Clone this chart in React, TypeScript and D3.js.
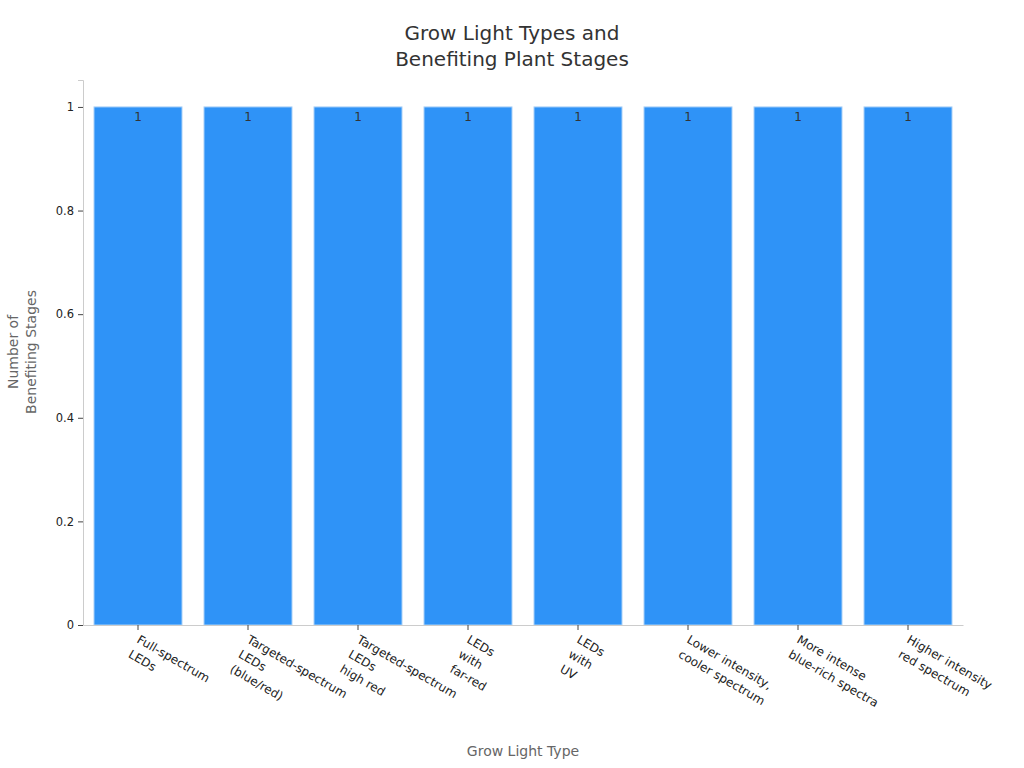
import * as d3 from 'd3'
import { FC, useRef, useEffect } from 'react'

const categories: string[][] = [
    ['Full-spectrum', 'LEDs'],
    ['Targeted-spectrum', 'LEDs', '(blue/red)'],
    ['Targeted-spectrum', 'LEDs', 'high red'],
    ['LEDs', 'with', 'far-red'],
    ['LEDs', 'with', 'UV'],
    ['Lower intensity,', 'cooler spectrum'],
    ['More intense', 'blue-rich spectra'],
    ['Higher intensity', 'red spectrum'],
]
const stageCounts: number[] = [1, 1, 1, 1, 1, 1, 1, 1]
const yTicks: number[] = [0, 0.2, 0.4, 0.6, 0.8, 1]
const titleLines = ['Grow Light Types and', 'Benefiting Plant Stages']
const yTitleLines = ['Number of', 'Benefiting Stages']
const xTitle = 'Grow Light Type'

const App: FC = () => {
    const svgRef = useRef<SVGSVGElement>(null)
    const width = 1024
    const height = 768
    const margin = { top: 80, right: 61, bottom: 143, left: 83 }

    useEffect(() => {
        const svg = d3.select(svgRef.current)
        svg.selectAll('*').remove()
        const font = '"DejaVu Sans", sans-serif'

        const keys = categories.map((c) => c.join(' '))
        const x = d3.scaleBand()
            .domain(keys)
            .range([margin.left, width - margin.right])
            .paddingInner(0.2)
            .paddingOuter(0.1)
        const y = d3.scaleLinear()
            .domain([0, 1.052])
            .range([height - margin.bottom, margin.top])

        // title
        svg.append('text')
            .attr('x', 512)
            .attr('y', 40)
            .attr('text-anchor', 'middle')
            .attr('font-family', font)
            .attr('font-size', 20)
            .attr('fill', '#333')
            .selectAll('tspan')
            .data(titleLines)
            .enter()
            .append('tspan')
            .attr('x', 512)
            .attr('dy', (_d, i) => (i === 0 ? 0 : 26))
            .text((d) => d)

        // bars
        svg.append('g')
            .selectAll('rect')
            .data(stageCounts)
            .enter()
            .append('rect')
            .attr('x', (_d, i) => x(keys[i])!)
            .attr('y', (d) => y(d))
            .attr('width', x.bandwidth())
            .attr('height', (d) => y(0) - y(d))
            .attr('fill', '#2f93f7')
            .attr('stroke', '#a9d0f7')
            .attr('stroke-width', 1)

        // value labels
        svg.append('g')
            .selectAll('text')
            .data(stageCounts)
            .enter()
            .append('text')
            .attr('x', (_d, i) => x(keys[i])! + x.bandwidth() / 2)
            .attr('y', (d) => y(d) + 14)
            .attr('text-anchor', 'middle')
            .attr('font-family', font)
            .attr('font-size', 12)
            .attr('fill', '#333')
            .text((d) => d)

        // y axis
        const yAxis = svg.append('g')
            .attr('transform', `translate(${margin.left},0)`)
            .call(d3.axisLeft(y).tickValues(yTicks).tickSize(5).tickPadding(4)
                .tickFormat((d) => String(d)))
        yAxis.select('.domain').attr('stroke', '#ccc')
        yAxis.selectAll('.tick line').attr('stroke', '#444')
        yAxis.selectAll('.tick text')
            .attr('font-family', font)
            .attr('font-size', 11.5)
            .attr('fill', '#222')

        // x axis
        const xAxis = svg.append('g')
            .attr('transform', `translate(0,${height - margin.bottom})`)
            .call(d3.axisBottom(x).tickSize(5).tickSizeOuter(0).tickFormat(() => ''))
        xAxis.select('.domain').attr('stroke', '#ccc')
        xAxis.selectAll('.tick line').attr('stroke', '#444')

        const labels = svg.append('g')
            .selectAll('text')
            .data(categories)
            .enter()
            .append('text')
            .attr('transform', (_d, i) =>
                `translate(${x(keys[i])! + x.bandwidth() / 2 - 2},${height - margin.bottom + 17}) rotate(30)`)
            .attr('font-family', font)
            .attr('font-size', 12)
            .attr('fill', '#222')
        labels.selectAll('tspan')
            .data((d) => d)
            .enter()
            .append('tspan')
            .attr('x', 0)
            .attr('y', (_d, i) => i * 17)
            .text((d) => d)

        // axis titles
        svg.append('text')
            .attr('x', (margin.left + width - margin.right) / 2)
            .attr('y', 756)
            .attr('text-anchor', 'middle')
            .attr('font-family', font)
            .attr('font-size', 14)
            .attr('fill', '#666')
            .text(xTitle)

        svg.append('text')
            .attr('transform', `translate(18,352) rotate(-90)`)
            .attr('text-anchor', 'middle')
            .attr('font-family', font)
            .attr('font-size', 14)
            .attr('fill', '#666')
            .selectAll('tspan')
            .data(yTitleLines)
            .enter()
            .append('tspan')
            .attr('x', 0)
            .attr('dy', (_d, i) => (i === 0 ? 0 : 18))
            .text((d) => d)
    }, [])

    return (
        <svg
            ref={svgRef}
            width={width}
            height={height}
            style={{ position: 'absolute', left: 0, top: 0, background: '#fff' }}
        />
    )
}

export default App
